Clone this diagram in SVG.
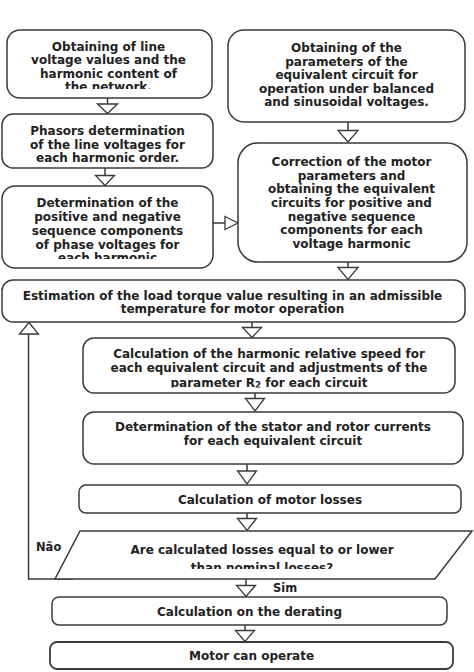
<svg xmlns="http://www.w3.org/2000/svg" width="474" height="672" viewBox="0 0 474 672">
<style>
.box{fill:#fff;stroke:#3a3a3a;stroke-width:1.5}
.t{font-family:"DejaVu Sans",sans-serif;font-weight:bold;font-size:12px;fill:#222;text-anchor:middle}
.lbl{font-family:"DejaVu Sans",sans-serif;font-weight:bold;font-size:11.5px;fill:#222}
.ln{fill:none;stroke:#3a3a3a;stroke-width:1.5}
.ar{fill:#fff;stroke:#3a3a3a;stroke-width:1.3;stroke-linejoin:miter}
</style>
<defs>
<clipPath id="c1"><rect x="0" y="0" width="474" height="89"/></clipPath>
<clipPath id="c3"><rect x="0" y="0" width="474" height="259"/></clipPath>
<clipPath id="c7"><rect x="0" y="0" width="474" height="387.5"/></clipPath>
<clipPath id="cp"><rect x="0" y="0" width="474" height="569"/></clipPath>
</defs>
<rect width="474" height="672" fill="#fff"/>

<g id="connectors">
<line class="ln" x1="107.5" y1="98" x2="107.5" y2="104"/>
<polygon class="ar" points="97.5,104 117.5,104 107.5,113.5"/>
<line class="ln" x1="105" y1="168" x2="105" y2="175.5"/>
<polygon class="ar" points="95.5,175.5 114.5,175.5 105,185.5"/>
<line class="ln" x1="348" y1="122" x2="348" y2="130.5"/>
<polygon class="ar" points="338,130.5 358,130.5 348,142"/>
<line class="ln" x1="213" y1="223" x2="225" y2="223"/>
<polygon class="ar" points="225,216.5 225,229.5 238,223"/>
<line class="ln" x1="348" y1="262" x2="348" y2="267.5"/>
<polygon class="ar" points="338,267.5 358,267.5 348,279.5"/>
<line class="ln" x1="252" y1="322" x2="252" y2="327.5"/>
<polygon class="ar" points="242.5,327.5 261.5,327.5 252,337.5"/>
<line class="ln" x1="255" y1="393" x2="255" y2="398.5"/>
<polygon class="ar" points="245.5,398.5 264.5,398.5 255,411"/>
<line class="ln" x1="247" y1="464" x2="247" y2="471"/>
<polygon class="ar" points="237.5,471 256.5,471 247,484"/>
<line class="ln" x1="247" y1="513" x2="247" y2="518.5"/>
<polygon class="ar" points="237.5,518.5 256.5,518.5 247,530.5"/>
<line class="ln" x1="246" y1="579" x2="246" y2="585.5"/>
<polygon class="ar" points="236.5,585.5 255.5,585.5 246,596.5"/>
<line class="ln" x1="245" y1="625" x2="245" y2="630.5"/>
<polygon class="ar" points="235.5,630.5 254.5,630.5 245,641.5"/>
<polyline class="ln" points="73,579 28.5,579 28.5,334"/>
<polygon class="ar" points="19.5,334 38.5,334 29,322.5"/>
<text class="lbl" x="36" y="551">Não</text>
<text class="lbl" x="273" y="591.5">Sim</text>
</g>

<g id="n1">
<rect class="box" x="7" y="30" width="205" height="68" rx="13"/>
<g clip-path="url(#c1)">
<text class="t" x="108.5" y="50.5">Obtaining of line</text>
<text class="t" x="108.5" y="64">voltage values and the</text>
<text class="t" x="108.5" y="77.5">harmonic content of</text>
<text class="t" x="108.5" y="91">the network.</text>
</g>
</g>

<g id="n2">
<rect class="box" x="2" y="114" width="211" height="54" rx="11"/>
<text class="t" x="107.5" y="134.5">Phasors determination</text>
<text class="t" x="107.5" y="148.5">of the line voltages for</text>
<text class="t" x="107.5" y="162">each harmonic order.</text>
</g>

<g id="n3">
<rect class="box" x="2" y="186" width="211" height="82" rx="13"/>
<g clip-path="url(#c3)">
<text class="t" x="107.5" y="207">Determination of the</text>
<text class="t" x="107.5" y="221">positive and negative</text>
<text class="t" x="107.5" y="235">sequence components</text>
<text class="t" x="107.5" y="248.5">of phase voltages for</text>
<text class="t" x="107.5" y="262">each harmonic</text>
</g>
</g>

<g id="n4">
<rect class="box" x="228" y="30" width="237" height="92" rx="16"/>
<text class="t" x="346.5" y="51.5">Obtaining of the</text>
<text class="t" x="346.5" y="65.5">parameters of the</text>
<text class="t" x="346.5" y="79">equivalent circuit for</text>
<text class="t" x="346.5" y="92.5">operation under balanced</text>
<text class="t" x="346.5" y="106">and sinusoidal voltages.</text>
</g>

<g id="n5">
<rect class="box" x="238" y="143" width="229" height="119" rx="20"/>
<text class="t" x="351.5" y="166">Correction of the motor</text>
<text class="t" x="351.5" y="179.5">parameters and</text>
<text class="t" x="351.5" y="193">obtaining the equivalent</text>
<text class="t" x="351.5" y="206.5">circuits for positive and</text>
<text class="t" x="351.5" y="220.5">negative sequence</text>
<text class="t" x="351.5" y="234">components for each</text>
<text class="t" x="351.5" y="247.5">voltage harmonic</text>
</g>

<g id="n6">
<rect class="box" x="2" y="280" width="463" height="42" rx="11"/>
<text class="t" x="232.5" y="299.5">Estimation of the load torque value resulting in an admissible</text>
<text class="t" x="232.5" y="313">temperature for motor operation</text>
</g>

<g id="n7">
<rect class="box" x="83" y="338" width="372" height="55" rx="11"/>
<g clip-path="url(#c7)">
<text class="t" x="269" y="357.5">Calculation of the harmonic relative speed for</text>
<text class="t" x="269" y="372">each equivalent circuit and adjustments of the</text>
<text class="t" x="269" y="386.5">parameter R<tspan font-size="8.5px" dy="1.5">2</tspan><tspan dy="-1.5"> for each circuit</tspan></text>
</g>
</g>

<g id="n8">
<rect class="box" x="83" y="412" width="380" height="52" rx="11"/>
<text class="t" x="273" y="430.5">Determination of the stator and rotor currents</text>
<text class="t" x="273" y="444.5">for each equivalent circuit</text>
</g>

<g id="n9">
<rect class="box" x="79" y="485" width="382" height="28" rx="7"/>
<text class="t" x="270" y="503.5">Calculation of motor losses</text>
</g>

<g id="n10">
<polygon class="box" points="80,531 472,531 435,579 55,579"/>
<g clip-path="url(#cp)">
<text class="t" x="262" y="553.5">Are calculated losses equal to or lower</text>
<text class="t" x="262" y="572">than nominal losses?</text>
</g>
</g>

<g id="n11">
<rect class="box" x="52" y="597" width="395" height="28" rx="7"/>
<text class="t" x="249.5" y="615.5">Calculation on the derating</text>
</g>

<g id="n12">
<rect class="box" x="50" y="642" width="403" height="27" rx="7" style="stroke-width:1.8"/>
<text class="t" x="251.5" y="660">Motor can operate</text>
</g>
</svg>
